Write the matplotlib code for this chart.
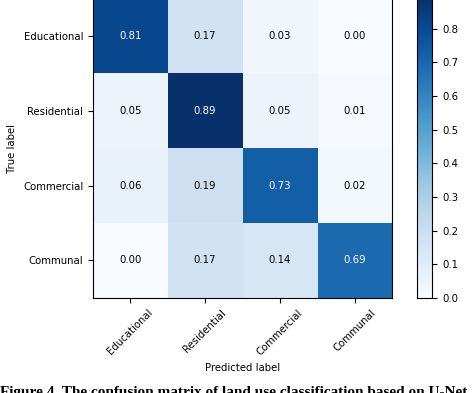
import matplotlib
matplotlib.use("Agg")
import matplotlib.pyplot as plt
import numpy as np

classes = ["Educational", "Residential", "Commercial", "Communal"]

row_educational = [0.81, 0.17, 0.03, 0.00]
row_residential = [0.05, 0.89, 0.05, 0.01]
row_commercial = [0.06, 0.19, 0.73, 0.02]
row_communal = [0.00, 0.17, 0.14, 0.69]

caption = ("Figure 4. The confusion matrix of land use classification "
           "based on U-Net")

cm = np.array([row_educational, row_residential, row_commercial, row_communal])

fs = 7.3
fig = plt.figure(figsize=(4.74, 3.93), dpi=100)
ax = fig.add_axes([0.196, 0.242, 0.631, 0.762])
cax = fig.add_axes([0.880, 0.242, 0.032, 0.762])

im = ax.imshow(cm, interpolation="nearest", cmap=plt.cm.Blues, aspect="auto")
cb = fig.colorbar(im, cax=cax)
cb.ax.tick_params(labelsize=fs)
cb.set_ticks(np.arange(0, 0.81, 0.1))

ticks = np.arange(len(classes))
ax.set_xticks(ticks)
ax.set_xticklabels(classes, rotation=45, fontsize=fs)
ax.set_yticks(ticks)
ax.set_yticklabels(classes, fontsize=fs)

thresh = cm.max() / 2.0
for i in range(cm.shape[0]):
    for j in range(cm.shape[1]):
        ax.text(j, i, format(cm[i, j], ".2f"), ha="center", va="center",
                fontsize=fs, color="white" if cm[i, j] > thresh else "black")

ax.set_ylabel("True label", fontsize=fs)
ax.set_xlabel("Predicted label", fontsize=fs)

# caption of the paper, cut off by the bottom edge
fig.text(0.0, 0.018, caption, fontsize=11, fontweight="bold",
         family="Liberation Serif", va="top", ha="left")

fig.savefig("out.png", dpi=100)
